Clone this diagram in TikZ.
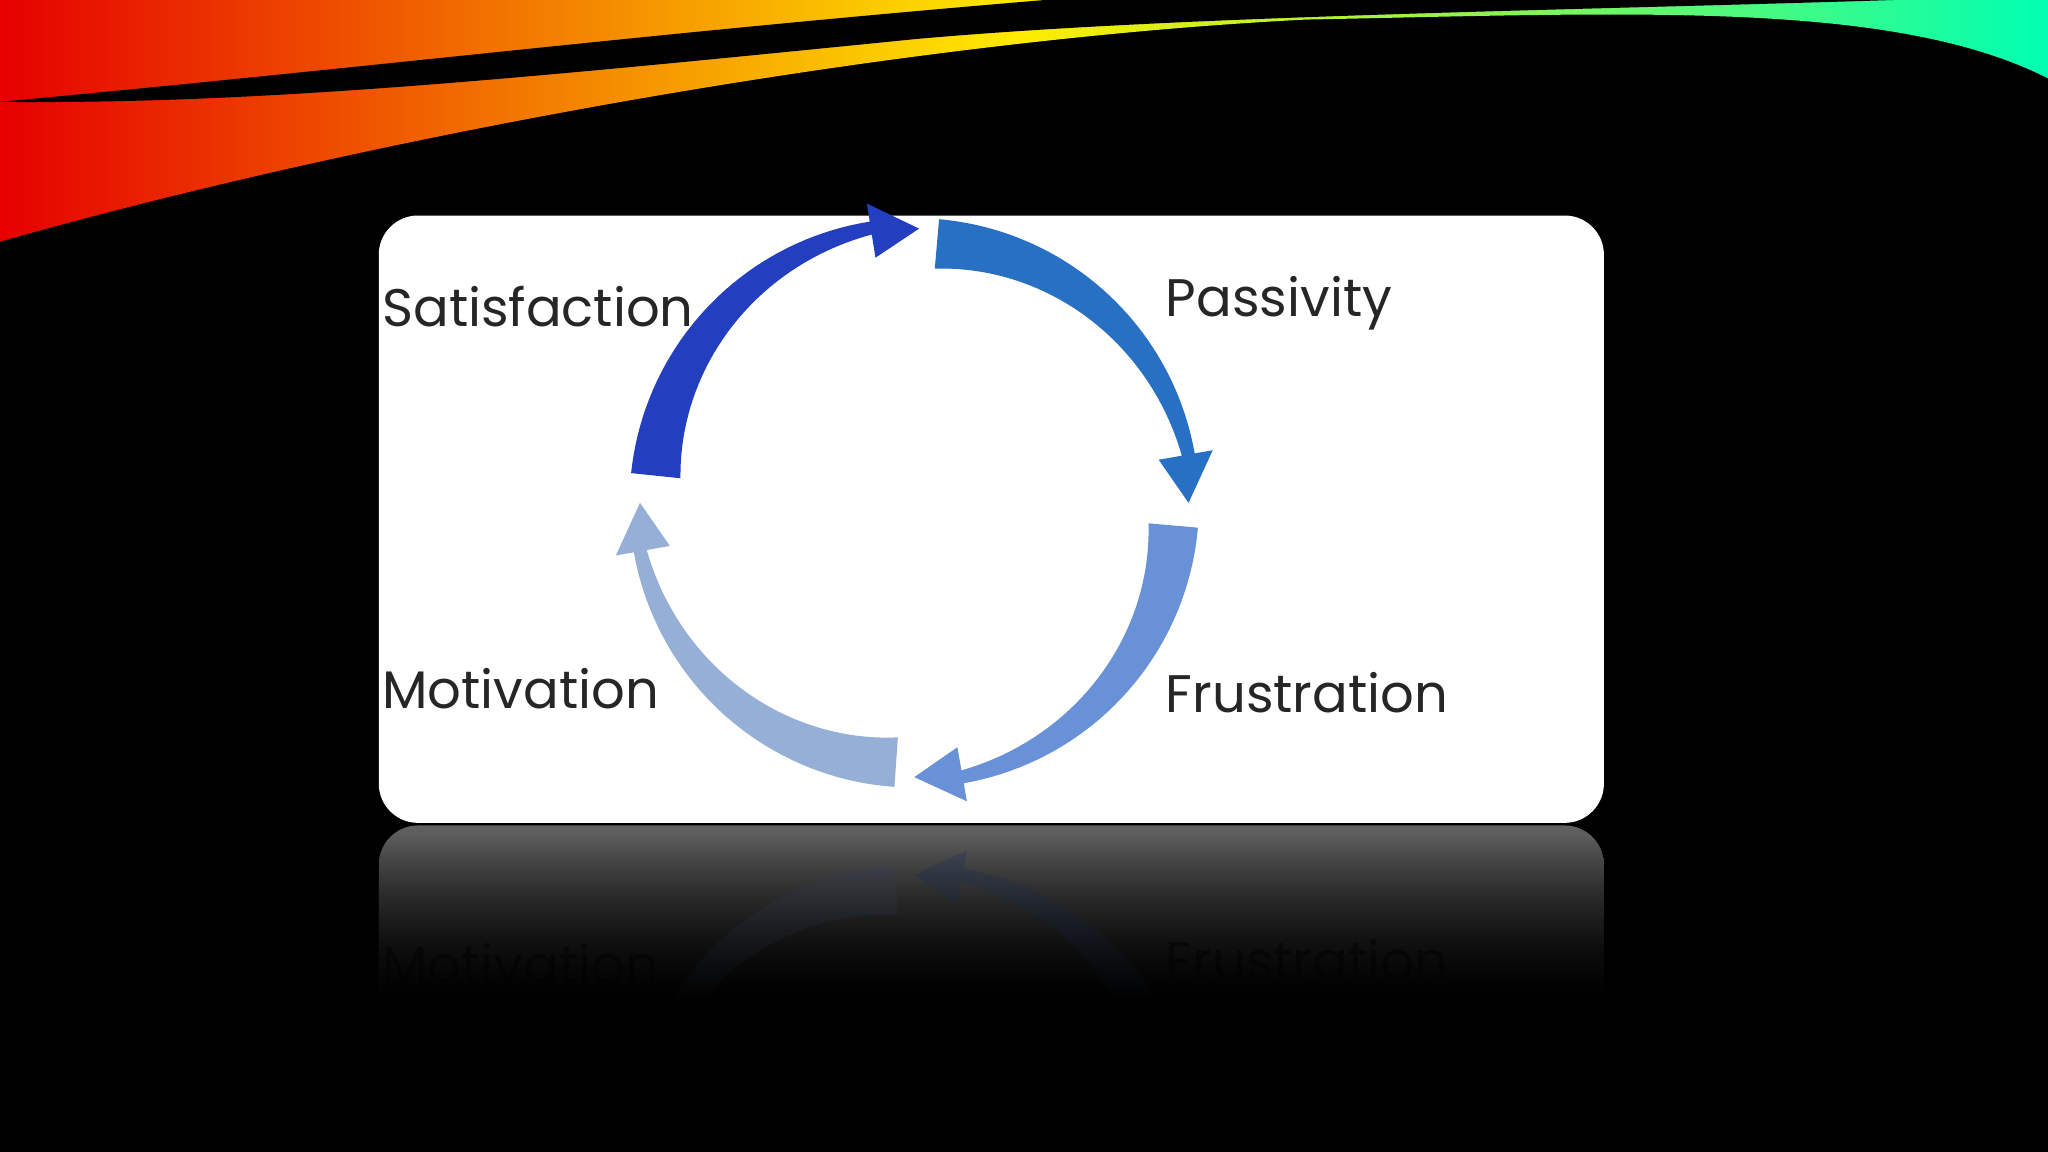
\documentclass[tikz,border=0pt]{standalone}
\usepackage{fontspec}
\setmainfont{Poppins}
\usetikzlibrary{calc,fadings}
\definecolor{aone}{RGB}{35,62,190}
\definecolor{atwo}{RGB}{40,112,195}
\definecolor{athree}{RGB}{105,145,215}
\definecolor{afour}{RGB}{150,175,215}
\newcommand\cyclearrow[3]{%
  \pgfmathsetmacro\ah{#2-10}%
  \fill[#3] plot[domain=#1:\ah,samples=40] ({700+218*cos(\x)},{385+218*sin(\x)})
    -- ([shift={(700,385)}]\ah:232) -- ([shift={(700,385)}]#2:210) -- ([shift={(700,385)}]\ah:190)
    -- plot[domain=\ah:#1,samples=40] ({700+(180+28*(\x-#1)/(\ah-#1))*cos(\x)},{385+(180+28*(\x-#1)/(\ah-#1))*sin(\x)}) -- cycle;}
\tikzset{lbl/.style={anchor=west,font=\fontsize{11.5}{14}\selectfont\mdseries,text=black!85,inner sep=0}}
\begin{document}
\begin{tikzpicture}[x=0.01cm,y=-0.01cm]
\useasboundingbox (0,0) rectangle (1568,882);
\fill[black] (0,0) rectangle (1568,882);
% swoosh
\shade[left color=red!90!black,right color=cyan!70!green,middle color=yellow!85!orange]
  (0,0) -- (1568,0) -- (1568,60) .. controls (1450,0) and (1250,10) .. (1000,15) .. controls (700,30) and (300,100) .. (0,185) -- cycle;
\fill[black] (0,78) .. controls (300,50) and (500,25) .. (800,0) -- (1450,0) .. controls (1200,8) and (900,12) .. (700,30) .. controls (400,60) and (200,80) .. (0,78) -- cycle;
% reflection
\begin{scope}
\clip (290,632) rectangle (1228,770);
\shade[top color=black!62,bottom color=black,rounded corners=0.3cm] (290,632) rectangle (1228,800);
\begin{scope}[yshift=-12.64cm,yscale=-1,opacity=0.45]
\cyclearrow{365}{450}{athree!45!black}
\cyclearrow{94}{180}{afour!45!black}
\node[lbl,text=black] at (292,527) {Motivation};
\node[lbl,text=black] at (892,530) {Frustration};
\end{scope}
\fill[black,path fading=north] (290,640) rectangle (1228,770);
\end{scope}
% panel
\fill[white,rounded corners=0.3cm] (290,165) rectangle (1228,630);
\cyclearrow{186}{271}{aone}
\cyclearrow{275}{360}{atwo}
\cyclearrow{365}{450}{athree}
\cyclearrow{94}{180}{afour}
\node[lbl] (sat) at (292,235) {Satisfaction};
\node[lbl] (pas) at (892,232) {Passivity};
\node[lbl] (mot) at (292,527) {Motivation};
\node[lbl] (fru) at (892,530) {Frustration};
\end{tikzpicture}
\end{document}
